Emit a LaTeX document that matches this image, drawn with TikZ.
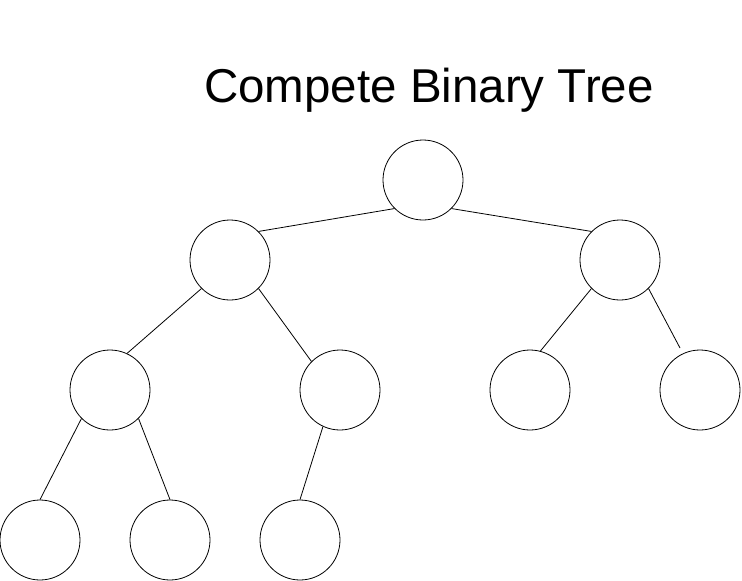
\documentclass[tikz,border=0pt]{standalone}
\usepackage{fontspec}
\setmainfont{Liberation Sans}
\begin{document}
\begin{tikzpicture}[x=1pt,y=-1pt,
  tn/.style={circle,draw,line width=0.8pt,minimum size=80pt,inner sep=0pt},
  edge/.style={line width=0.8pt}]
\useasboundingbox (0,0) rectangle (742,581);
\node[font=\fontsize{47.5}{50}\selectfont,anchor=base,inner sep=0pt] (title) at (429,102) {Compete Binary Tree};
\node[tn] (r) at (423,180) {};
\node[tn] (a) at (230,260) {};
\node[tn] (b) at (620,260) {};
\node[tn] (c) at (110,390) {};
\node[tn] (d) at (340,390) {};
\node[tn] (e) at (530,390) {};
\node[tn] (f) at (700,390) {};
\node[tn] (g) at (40,540) {};
\node[tn] (h) at (170,540) {};
\node[tn] (i) at (300,540) {};
\coordinate (fend) at (680,348);
\draw[edge] (r.south west) -- (a.north east);
\draw[edge] (r.south east) -- (b.north west);
\draw[edge] (a.south west) -- (c.65);
\draw[edge] (a.south east) -- (d.north west);
\draw[edge] (b.south west) -- (e.75);
\draw[edge] (b.south east) -- (fend);
\draw[edge] (c.south west) -- (g.north);
\draw[edge] (c.south east) -- (h.north);
\draw[edge] (d.245) -- (i.north);
\end{tikzpicture}
\end{document}
